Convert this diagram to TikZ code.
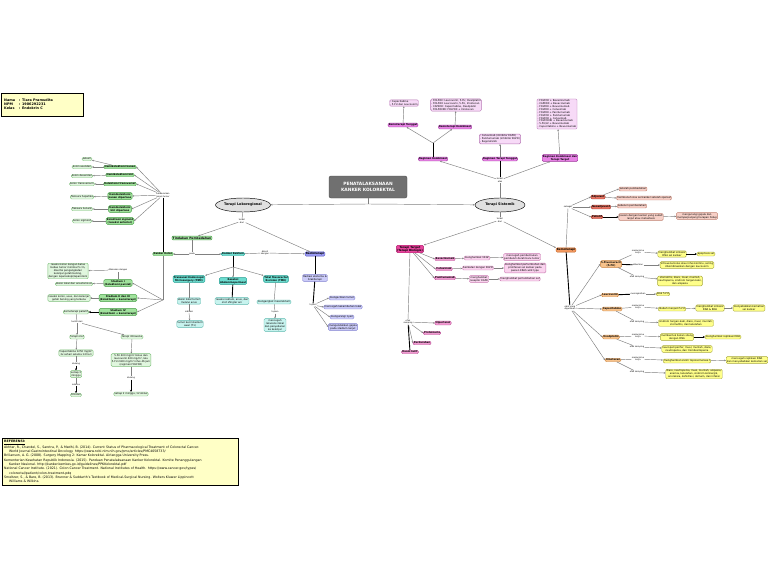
\documentclass[tikz,border=0pt]{standalone}
\usepackage{fontspec}
\setmainfont{DejaVu Sans}
\usetikzlibrary{arrows.meta,shapes.geometric}
\definecolor{lineg}{HTML}{808080}
\definecolor{gDf}{HTML}{A0E29C}\definecolor{gDd}{HTML}{3C9A3C}
\definecolor{gLf}{HTML}{E0F6DE}\definecolor{gLd}{HTML}{7DBF7A}
\definecolor{tDf}{HTML}{6CDCCF}\definecolor{tDd}{HTML}{1F9C90}
\definecolor{tLf}{HTML}{C7F3EE}\definecolor{tLd}{HTML}{5CB8AE}
\definecolor{pDf}{HTML}{9A9AF2}\definecolor{pDd}{HTML}{5454C4}
\definecolor{pLf}{HTML}{CBCBF8}\definecolor{pLd}{HTML}{8080D0}
\definecolor{mDf}{HTML}{E8459E}\definecolor{mDd}{HTML}{A81E68}
\definecolor{mMf}{HTML}{F29AD2}\definecolor{mMd}{HTML}{B84C92}
\definecolor{mLf}{HTML}{FAD3EE}\definecolor{mLd}{HTML}{C87AB0}
\definecolor{vMf}{HTML}{E682E4}\definecolor{vMd}{HTML}{9C349A}
\definecolor{vLf}{HTML}{F7DAF7}\definecolor{vLd}{HTML}{B878B6}
\definecolor{oDf}{HTML}{F39A62}\definecolor{oDd}{HTML}{C0601F}
\definecolor{oMf}{HTML}{F8C38C}\definecolor{oMd}{HTML}{C8803A}
\definecolor{yLf}{HTML}{FFFF8A}\definecolor{yLd}{HTML}{A8A83C}
\definecolor{rDf}{HTML}{E47262}\definecolor{rDd}{HTML}{A03224}
\definecolor{rLf}{HTML}{F7D0C7}\definecolor{rLd}{HTML}{C08070}
\definecolor{paper}{HTML}{FFFFC6}
\definecolor{titlef}{HTML}{707070}
\begin{document}
\begin{tikzpicture}[x=1pt,y=-1pt,
 every node/.style={inner sep=0.75pt, align=center},
 bx/.style={draw, rounded corners=1.2pt, line width=0.4pt, font=\fontsize{2.5}{2.9}\selectfont},
 bxb/.style={bx, font=\bfseries\fontsize{2.5}{2.9}\selectfont},
 gD/.style={bxb, fill=gDf, draw=gDd},
 gL/.style={bx, fill=gLf, draw=gLd},
 tD/.style={bxb, fill=tDf, draw=tDd},
 tL/.style={bx, fill=tLf, draw=tLd},
 pD/.style={bxb, fill=pDf, draw=pDd},
 pL/.style={bx, fill=pLf, draw=pLd},
 mD/.style={bxb, fill=mDf, draw=mDd},
 mM/.style={bxb, fill=mMf, draw=mMd},
 mL/.style={bx, fill=mLf, draw=mLd},
 vM/.style={bxb, fill=vMf, draw=vMd},
 vL/.style={bx, fill=vLf, draw=vLd, align=left},
 oD/.style={bxb, fill=oDf, draw=oDd},
 oM/.style={bxb, fill=oMf, draw=oMd},
 yL/.style={bx, fill=yLf, draw=yLd},
 rD/.style={bxb, fill=rDf, draw=rDd},
 rL/.style={bx, fill=rLf, draw=rLd},
 lb/.style={font=\fontsize{2.1}{2.5}\selectfont, inner sep=0.4pt, fill=white},
 conn/.style={draw=lineg, line width=0.45pt, -{Stealth[length=1.8pt,width=1.6pt]}},
 plainl/.style={draw=lineg, line width=0.45pt},
 thk/.style={draw=black, line width=0.9pt},
 thka/.style={draw=black, line width=0.9pt, -{Stealth[length=2pt,width=2pt]}},
 ell/.style={ellipse, draw=black, line width=0.45pt, fill=white!88!black, font=\bfseries\fontsize{3.4}{4}\selectfont, inner sep=0pt},
]
\fill[white] (0,0) rectangle (768,578);
\useasboundingbox (0,0) rectangle (768,578);

% ---------- identity box ----------
\node[draw=black, line width=0.5pt, fill=paper, minimum width=82pt, minimum height=23pt, anchor=north west, inner sep=0pt] (idbox) at (1,93) {};
\node[anchor=west, font=\bfseries\fontsize{3.4}{4}\selectfont, inner sep=0pt, align=left] (idtxt) at ([xshift=3pt]idbox.west)
 {\begin{tabular}{@{}l@{\hspace{4pt}}l@{}}Nama & : Tiara Pramudita\\ NPM & : 1906292231\\ Kelas & : Endokrin C\end{tabular}};

% ---------- title ----------
\node[draw=titlef!70!black, fill=titlef, rounded corners=2pt, minimum width=78pt, minimum height=22pt, text=white, font=\bfseries\fontsize{4.4}{5.4}\selectfont] (title) at (368,187) {PENATALAKSANAAN\\KANKER KOLOREKTAL};
\coordinate (j0) at (368,204);
\node[ell, minimum width=55pt, minimum height=14pt] (lok) at (243,205) {Terapi Lokoregional};
\node[ell, minimum width=50pt, minimum height=14pt] (sis) at (500,205) {Terapi Sistemik};
\draw[plainl] (title.south) -- (j0);
\draw[conn] (j0) -- (lok);
\draw[conn] (j0) -- (sis);

% ---------- systemic: regimens (top) ----------
\node[lb] (sj1) at (500,180) {terdiri\\atas};
\node[vM] (rk) at (433,159) {Regimen Kombinasi};
\node[vM] (rtt) at (500,159) {Regimen Terapi Tunggal};
\node[vM] (rkt) at (560,158) {Regimen Kombinasi dan\\Terapi Target};
\coordinate (rkj) at (433,143);
\node[vM] (kt) at (403,125) {Kemoterapi Tunggal};
\node[vM] (kk) at (455,127) {Kemoterapi Kombinasi};
\node[vL] (ktb) at (404,103) {- Capecitabine\\- 5-FU dan Leucovorin};
\node[vL] (kkb) at (456,105) {- FOLFOX: Leucovorin, 5-FU, Oxaliplatin\\- FOLFIRI: Leucovorin, 5-FU, Irinotecan\\- CAPEOX: Capecitabine, Oxaliplatin\\- FOLFOXIRI: FOLFOX + Irinotecan};
\node[vL] (rttb) at (500,139) {- Cetuximab (inhibitor EGFR)\\- Panitumumab (inhibitor EGFR)\\- Regorafenib};
\node[vL] (rktb) at (557,114) {- FOLFOX + Bevacizumab\\- CAPEOX + Bevacizumab\\- FOLFIRI + Bevacizumab\\- FOLFIRI + Cetuximab\\- FOLFIRI + Panitumumab\\- FOLFOX + Panitumumab\\- FOLFOX + Cetuximab\\- FOLFOXIRI + Bevacizumab\\- 5-FU/LV + Bevacizumab\\- Capecitabine + Bevacizumab};
\draw[plainl] (sis) -- (sj1);
\draw[conn] (sj1) -- (rk);
\draw[thk] (sj1) -- (rtt);
\draw[conn] (sj1) -- (rkt);
\draw[thk] (rk) -- (rkj);
\draw[conn] (rkj) -- (kt);
\draw[conn] (rkj) -- (kk);
\draw[conn] (kt) -- (ktb);
\draw[conn] (kk) -- (kkb);
\draw[conn] (rtt) -- (rttb);
\draw[conn] (rkt) -- (rktb);

% ---------- locoregional ----------
\node[lb] (lj) at (242,221) {terdiri\\dari};
\node[bxb, fill=gDf!80!white, draw=gDd, font=\bfseries\fontsize{3}{3.5}\selectfont] (tp) at (192,238) {Tindakan Pembedahan};
\node[pD, font=\bfseries\fontsize{2.8}{3.3}\selectfont] (rad) at (315,254) {Radioterapi};
\node[lb] (pada) at (192,254) {pada};
\node[gD] (kol) at (163,254) {Kanker Kolon};
\node[tD] (rek) at (233,254) {Kanker Rektum};
\node[lb] (dd) at (265,253) {diikuti\\dengan};
\draw[plainl] (lok) -- (lj);
\draw[conn] (lj) -- (tp);
\draw[conn] (lj) -- (rad);
\draw[plainl] (tp) -- (pada);
\draw[conn] (pada) -- (kol);
\draw[conn] (pada) -- (rek);
\draw[plainl] (rek) -- (dd);
\draw[conn] (dd) -- (rad);

% colon: by location
\node[lb] (kj) at (163,195) {berdasarkan\\lokasi tumor};
\node[gD] (g1) at (120,167) {Hemikolektomi kanan};
\node[gD] (g2) at (120,175) {Hemikolektomi kiri};
\node[gD] (g3) at (120,184) {Kolektomi transversal};
\node[gD] (g4) at (120,196) {Hemikolektomi\\kanan diperluas};
\node[gD] (g5) at (120,209) {Hemikolektomi\\kiri diperluas};
\node[gD] (g6) at (120,221) {Kolektomi sigmoid\\(reseksi anterior)};
\node[gL] (s0) at (87,159) {sekum};
\node[gL] (s1) at (82,167) {kolon asenden};
\node[gL] (s2) at (82,176) {kolon desenden};
\node[gL] (s3) at (82,184) {kolon transversum};
\node[gL] (s4) at (82,197) {fleksura hepatika};
\node[gL] (s5) at (82,209) {fleksura lienalis};
\node[gL] (s6) at (82,221) {kolon sigmoid};
\draw[thk] (kj) -- (kol);
\foreach \g in {g1,g2,g3,g4,g5,g6} \draw[conn] (kj) -- (\g.east);
\draw[conn] (g1) -- (s0);
\draw[conn] (g1) -- (s1);
\draw[conn] (g2) -- (s2);
\draw[conn] (g3) -- (s3);
\draw[conn] (g4) -- (s4);
\draw[conn] (g5) -- (s5);
\draw[conn] (g6) -- (s6);

% colon: by stage
\coordinate (kj2) at (163,300);
\node[gD] (st1) at (118,283) {Stadium I\\(Kolektomi parsial)};
\node[gD] (st2) at (118,298) {Stadium II dan III\\(Kolektomi + kemoterapi)};
\node[gD] (st3) at (118,312) {Stadium IV\\(Kolektomi + kemoterapi)};
\node[lb] (l1) at (118,270) {dilakukan dengan};
\node[gL] (b1) at (68,271) {reseksi kolon dengan batas\\bebas tumor minimal 5 cm,\\disertai pengangkatan\\kelenjar getah bening,\\dengan laparoskopi/laparotomi};
\node[gL] (b2) at (74,284) {eksisi lokal dan anastomosis};
\node[gL] (b3) at (69,298) {reseksi kolon, usus, dan kelenjar\\getah bening yang terkena};
\node[gL] (b4) at (76,312) {kemoterapi paliatif};
\draw[plainl] (kol) -- (kj2);
\draw[conn] (kj2) -- (st1.east);
\draw[conn] (kj2) -- (st2.east);
\draw[conn] (kj2) -- (st3.east);
\draw[plainl] (st1) -- (l1);
\draw[conn] (l1) -- (b1);
\draw[conn] (st1) -- (b2);
\draw[conn] (st2) -- (b3);
\draw[thka] (st3) -- (b4);

\node[lb] (lj2) at (77,322) {terdiri dari};
\node[gL] (c1) at (77,337) {terapi oral};
\node[gL] (c2) at (132,337) {terapi intravena};
\node[gL] (c1a) at (76,353) {Capecitabine 1250 mg/m²\\2x sehari selama 14 hari};
\node[lb] (c1l) at (76,364) {diulang};
\node[gL] (c1b) at (76,374) {setiap 3\\minggu};
\node[lb] (c1m) at (76,385) {selama};
\node[gL] (c1c) at (76,395) {6 bulan};
\node[gL] (c2a) at (131,360) {5-FU 400 mg/m² bolus dan\\leucovorin 400 mg/m², lalu\\5-FU 2400 mg/m² infus 46 jam\\(regimen FOLFOX)};
\node[lb] (c2l) at (131,378) {diulang};
\node[gL] (c2b) at (131,394) {setiap 2 minggu, 12 siklus};
\draw[plainl] (b4) -- (lj2);
\draw[conn] (lj2) -- (c1);
\draw[conn] (lj2) -- (c2);
\draw[conn] (c1) -- (c1a);
\draw[plainl] (c1a) -- (c1l);
\draw[thka] (c1l) -- (c1b);
\draw[plainl] (c1b) -- (c1m);
\draw[thka] (c1m) -- (c1c);
\draw[conn] (c2) -- (c2a);
\draw[plainl] (c2a) -- (c2l);
\draw[thka] (c2l) -- (c2b);

% rectum
\coordinate (rj) at (233,267);
\node[tD] (r1) at (189,279) {Transanal Endoscopic\\Microsurgery (TEM)};
\node[tD] (r2) at (233,281) {Reseksi\\Abdominoperineal};
\node[tD] (r3) at (276,279) {Total Mesorectal\\Excision (TME)};
\node[tL] (r1a) at (189,301) {eksisi lokal tumor\\melalui anus};
\node[lb] (r1l) at (189,312) {indikasi};
\node[tL] (r1b) at (190,324) {tumor kecil stadium\\awal (T1)};
\node[tL] (r2a) at (232,301) {reseksi rektum, anus, dan\\otot sfingter ani};
\node[tL] (r3a) at (274,302) {mengangkat mesorektum};
\node[lb] (r3l) at (275,312) {tujuan};
\node[tL] (r3b) at (275,325) {mencegah\\rekurensi lokal\\dan penyebaran\\ke kelenjar};
\draw[thk] (rek) -- (rj);
\draw[conn] (rj) -- (r1.north east);
\draw[conn] (rj) -- (r2);
\draw[conn] (rj) -- (r3.north west);
\draw[plainl] (r1) -- (r1a);
\draw[plainl] (r1a) -- (r1l);
\draw[conn] (r1l) -- (r1b);
\draw[thk] (r2) -- (r2a);
\draw[plainl] (r3) -- (r3a);
\draw[plainl] (r3a) -- (r3l);
\draw[conn] (r3l) -- (r3b);

% radiotherapy
\node[pL] (ra) at (315,278) {Radiasi eksterna \&\\brakiterapi};
\node[lb] (rl) at (313,305) {tujuan};
\node[pL] (p1) at (342,298) {mengecilkan tumor};
\node[pL] (p2) at (343,307) {mencegah kekambuhan lokal};
\node[pL] (p3) at (342,317) {mengurangi nyeri};
\node[pL] (p4) at (343,327) {mengendalikan gejala\\pada stadium lanjut};
\draw[thk] (rad) -- (ra);
\draw[thk] (ra) -- (rl);
\foreach \p in {p1,p2,p3,p4} \draw[conn] (rl) -- (\p.west);

% ---------- systemic lower ----------
\node[lb] (sj2) at (500,220) {terdiri\\dari};
\node[mD, font=\bfseries\fontsize{2.8}{3.3}\selectfont] (tt) at (410,249) {Terapi Target\\(Terapi Biologis)};
\node[oD, font=\bfseries\fontsize{2.8}{3.3}\selectfont] (kemo) at (566,250) {Kemoterapi};
\draw[plainl] (sis) -- (sj2);
\draw[conn] (sj2) -- (tt.north east);
\draw[conn] (sj2) -- (kemo.north west);

% target therapy
\node[mM] (t1) at (445,259) {Bevacizumab};
\node[mM] (t2) at (444,269) {Cetuximab};
\node[mM] (t3) at (445,278) {Panitumumab};
\node[mL] (t1a) at (477,258) {menghambat VEGF};
\node[mL] (t2a) at (478,268) {berikatan dengan EGFR};
\node[mL] (t3a) at (479,279) {menghambat\\reseptor EGFR};
\node[mL] (t1b) at (522,257) {mencegah pembentukan\\pembuluh darah baru tumor};
\node[mL] (t2b) at (525,268) {menghambat pertumbuhan dan\\proliferasi sel kanker pada\\pasien KRAS wild type};
\node[mL] (t3b) at (520,279) {menghambat pertumbuhan sel};
\draw[conn] (tt) -- (t1.west);
\draw[conn] (tt) -- (t2.west);
\draw[conn] (tt) -- (t3.west);
\draw[conn] (t1) -- (t1a);
\draw[conn] (t2) -- (t2a);
\draw[conn] (t3) -- (t3a);
\draw[conn] (t1a) -- (t1b);
\draw[conn] (t2a) -- (t2b);
\draw[conn] (t3a) -- (t3b);
\node[lb] (te) at (408,322) {efek\\samping};
\node[mM] (e1) at (443,323) {Hipertensi};
\node[mM] (e2) at (432,333) {Proteinuria};
\node[mM] (e3) at (422,343) {Perdarahan};
\node[mM] (e4) at (410,352) {Ruam kulit};
\draw[plainl] (tt) -- (te);
\draw[conn] (te) -- (e1.west);
\draw[conn] (te) -- (e2.west);
\draw[conn] (te) -- (e3.west);
\draw[thk] (te) -- (e4);

% chemotherapy: purpose
\node[lb] (kmj) at (568,207) {sebagai};
\node[rD] (a1) at (598,197) {Adjuvant};
\node[rD] (a2) at (601,207) {Neoadjuvant};
\node[rD] (a3) at (597,217) {Paliatif};
\node[rL] (a1a) at (633,189) {setelah pembedahan};
\node[rL] (a1b) at (644,198) {membunuh sisa sel kanker setelah operasi};
\node[rL] (a2a) at (632,206) {sebelum pembedahan};
\node[rL] (a3a) at (641,217) {pasien dengan kanker yang sudah\\lanjut atau metastasis};
\node[rL] (a3b) at (697,216) {mengurangi gejala dan\\memperpanjang harapan hidup};
\draw[plainl] (kemo) -- (kmj);
\draw[conn] (kmj) -- (a1.west);
\draw[conn] (kmj) -- (a2.west);
\draw[conn] (kmj) -- (a3.west);
\draw[conn] (a1) -- (a1a.west);
\draw[conn] (a1) -- (a1b.west);
\draw[conn] (a2) -- (a2a);
\draw[thka] (a3) -- (a3a);
\draw[conn] (a3a) -- (a3b);

% chemotherapy: drugs
\node[lb] (kj3) at (570,308) {obat yang\\digunakan};
\node[oM] (d1) at (611,264) {5-Fluorouracil\\(5-FU)};
\node[oM] (d2) at (610,295) {Leucovorin};
\node[oM] (d3) at (612,309) {Capecitabine};
\node[oM] (d4) at (611,337) {Oxaliplatin};
\node[oM] (d5) at (613,360) {Irinotecan};
\draw[thk] (kemo) -- (kj3);
\foreach \d in {d1,d2,d3,d4,d5} \draw[conn] (kj3) -- (\d.west);

% 5-FU
\node[lb] (d1l1) at (638,252) {mekanisme\\kerja};
\node[yL] (y1) at (672,254) {menghambat sintesis\\DNA sel kanker};
\node[yL] (y1b) at (706,254) {apoptosis sel};
\node[lb] (d1l2) at (638,265) {diberikan};
\node[yL] (y2) at (687,265) {intravena bolus atau infus kontinu, sering\\dikombinasikan dengan leucovorin};
\node[lb] (d1l3) at (637,277) {efek samping};
\node[yL] (y3) at (680,281) {stomatitis, diare, mual, muntah,\\neutropenia, sindrom tangan-kaki,\\dan alopesia};
\draw[plainl] (d1) -- (d1l1);
\draw[conn] (d1l1) -- (y1);
\draw[thka] (y1) -- (y1b);
\draw[thk] (d1) -- (d1l2);
\draw[conn] (d1l2) -- (y2);
\draw[plainl] (d1) -- (d1l3);
\draw[conn] (d1l3) -- (y3);

% Leucovorin
\node[lb] (d2l) at (638,294) {meningkatkan};
\node[yL] (y4) at (663,294) {efek 5-FU};
\draw[thk] (d2) -- (d2l);
\draw[conn] (d2l) -- (y4);

% Capecitabine
\node[lb] (d3l1) at (638,307) {mekanisme\\kerja};
\node[yL] (y5) at (672,309) {diubah menjadi 5-FU};
\node[yL] (y5b) at (710,308) {menghambat sintesis\\DNA \& RNA};
\node[yL] (y5c) at (749,308) {menyebabkan kematian\\sel kanker};
\node[lb] (d3l2) at (637,322) {efek samping};
\node[yL] (y6) at (686,323) {sindrom tangan-kaki, diare, mual, muntah,\\stomatitis, dan kelelahan};
\draw[plainl] (d3) -- (d3l1);
\draw[conn] (d3l1) -- (y5);
\draw[conn] (y5) -- (y5b);
\draw[conn] (y5b) -- (y5c);
\draw[plainl] (d3) -- (d3l2);
\draw[conn] (d3l2) -- (y6);

% Oxaliplatin
\node[lb] (d4l1) at (638,336) {mekanisme\\kerja};
\node[yL] (y7) at (677,337) {membentuk ikatan silang\\dengan DNA};
\node[yL] (y7b) at (723,337) {menghambat replikasi DNA};
\node[lb] (d4l2) at (637,347) {efek samping};
\node[yL] (y8) at (687,349) {neuropati perifer, mual, muntah, diare,\\neutropenia, dan trombositopenia};
\draw[plainl] (d4) -- (d4l1);
\draw[conn] (d4l1) -- (y7);
\draw[thka] (y7) -- (y7b);
\draw[plainl] (d4) -- (d4l2);
\draw[conn] (d4l2) -- (y8);

% Irinotecan
\node[lb] (d5l1) at (638,359) {mekanisme\\kerja};
\node[yL] (y9) at (687,361) {menghambat enzim topoisomerase I};
\node[yL] (y9b) at (747,360) {mencegah replikasi DNA\\dan menyebabkan kematian sel};
\node[lb] (d5l2) at (637,372) {efek samping};
\node[yL] (y10) at (694,374) {diare, neutropenia, mual, muntah, alopesia,\\anemia, kelelahan, sindrom kolinergik,\\anoreksia, dehidrasi, demam, dan infeksi};
\draw[plainl] (d5) -- (d5l1);
\draw[conn] (d5l1) -- (y9);
\draw[conn] (y9) -- (y9b);
\draw[plainl] (d5) -- (d5l2);
\draw[conn] (d5l2) -- (y10);

% ---------- references ----------
\node[draw=black, line width=0.5pt, fill=paper, minimum width=236pt, minimum height=47pt, anchor=north west, inner sep=0pt] (refbox) at (2,438) {};
\node[anchor=north west, inner sep=0pt, align=left, font=\fontsize{3.2}{4.35}\selectfont] (reftxt) at ([xshift=2pt,yshift=-2pt]refbox.north west)
{\textbf{\underline{REFERENSI:}}\\
Akhtar, R., Chandel, S., Sarotra, P., \& Medhi, B. (2014). Current Status of Pharmacological Treatment of Colorectal Cancer.\\
\hspace*{5pt}World Journal Gastrointestinal Oncology. https://www.ncbi.nlm.nih.gov/pmc/articles/PMC4058733/\\
Brilianson, A. G. (2008). Surgery Mapping 2: Kamar Kolorektal. Airlangga University Press.\\
Kementerian Kesehatan Republik Indonesia. (2015). Panduan Penatalaksanaan Kanker Kolorektal. Komite Penanggulangan\\
\hspace*{5pt}Kanker Nasional. http://kanker.kemkes.go.id/guidelines/PPKKolorektal.pdf\\
National Cancer Institute. (2021). Colon Cancer Treatment. National Institutes of Health. https://www.cancer.gov/types/\\
\hspace*{5pt}colorectal/patient/colon-treatment-pdq\\
Smeltzer, S., \& Bare, B. (2013). Brunner \& Suddarth's Textbook of Medical-Surgical Nursing. Wolters Kluwer Lippincott\\
\hspace*{5pt}Williams \& Wilkins.};
\end{tikzpicture}
\end{document}
